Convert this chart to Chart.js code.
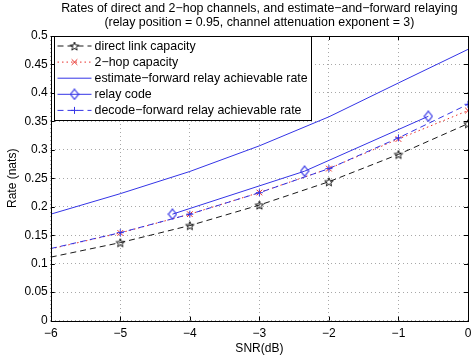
<!DOCTYPE html>
<html><head><meta charset="utf-8">
<script src="https://cdn.jsdelivr.net/npm/chart.js@4"></script>
<style>body{margin:0;background:#fff}canvas{display:block}</style>
</head><body>
<canvas id="c" width="474" height="355"></canvas>
<script>
// ---- data ----
const snr = [-6, -5, -4, -3, -2, -1, 0];
const directLink      = [0.1115, 0.137, 0.167, 0.203, 0.244, 0.292, 0.346];
const twoHop          = [0.126, 0.154, 0.187, 0.225, 0.267, 0.319, 0.369];
const estimateForward = [0.187, 0.223, 0.262, 0.307, 0.358, 0.4175, 0.4765];
const relayCodeSnr    = [-4.25, -2.35, -0.57];
const relayCode       = [0.187, 0.2625, 0.359];
const decodeForward   = [0.1266, 0.1545, 0.187, 0.2247, 0.267, 0.321, 0.380];
const xTickValues = [-6, -5, -4, -3, -2, -1, 0];
const yTickValues = [0, 0.05, 0.1, 0.15, 0.2, 0.25, 0.3, 0.35, 0.4, 0.45, 0.5];
const seriesLabels = ['direct link capacity', '2\u2212hop capacity', 'estimate\u2212forward relay achievable rate', 'relay code', 'decode\u2212forward relay achievable rate'];
const titleLines = ['Rates of direct and 2\u2212hop channels, and estimate\u2212and\u2212forward relaying', '(relay position = 0.95, channel attenuation exponent = 3)'];

const FONT = "'Liberation Sans', Arial, Helvetica, sans-serif";
const BLUE = '#3434e6';
const BLACK = '#1a1a1a';
const RED = '#e8302a';

function makeStar(r, color) {
  const s = Math.ceil(r * 2 + 3), c = document.createElement('canvas');
  c.width = s; c.height = s;
  const g = c.getContext('2d');
  g.strokeStyle = color; g.lineWidth = 1;
  g.beginPath();
  for (let i = 0; i < 10; i++) {
    const a = -Math.PI / 2 + i * Math.PI / 5, rr = i % 2 ? r * 0.42 : r;
    const x = s / 2 + rr * Math.cos(a), y = s / 2 + 0.5 + rr * Math.sin(a);
    i ? g.lineTo(x, y) : g.moveTo(x, y);
  }
  g.closePath(); g.stroke();
  return c;
}
function makeDiamond(w, h, color) {
  const c = document.createElement('canvas');
  c.width = w + 2; c.height = h + 2;
  const g = c.getContext('2d');
  g.strokeStyle = color; g.lineWidth = 1.2;
  g.beginPath();
  g.moveTo(c.width / 2, 1); g.lineTo(c.width - 1, c.height / 2);
  g.lineTo(c.width / 2, c.height - 1); g.lineTo(1, c.height / 2); g.closePath();
  g.stroke();
  return c;
}
const starImg = makeStar(4.5, BLACK);
const diamondImg = makeDiamond(8, 10, BLUE);

function pts(xs, ys) { return xs.map((x, i) => ({x, y: ys[i]})); }
const hideFirst = r => snr.map((x, i) => i === 0 ? 0 : r);

const datasets = [
  {label: seriesLabels[0], data: pts(snr, directLink), borderColor: BLACK, borderWidth: 1, borderDash: [6, 4],
   pointStyle: starImg, pointRadius: hideFirst(4), pointBorderColor: BLACK, order: 5},
  {label: seriesLabels[1], data: pts(snr, twoHop), borderColor: RED, borderWidth: 1, borderDash: [1.5, 3],
   pointStyle: 'crossRot', pointRadius: hideFirst(4), pointBorderColor: RED, pointBorderWidth: 1, order: 3},
  {label: seriesLabels[2], data: pts(snr, estimateForward), borderColor: BLUE, borderWidth: 1,
   pointRadius: 0, order: 4},
  {label: seriesLabels[3], data: pts(relayCodeSnr, relayCode), borderColor: BLUE, borderWidth: 1,
   pointStyle: diamondImg, pointRadius: 5, pointBorderColor: BLUE, order: 2},
  {label: seriesLabels[4], data: pts(snr, decodeForward), borderColor: BLUE, borderWidth: 1, borderDash: [6, 4],
   pointStyle: 'cross', pointRadius: hideFirst(3.5), pointBorderColor: BLUE, pointBorderWidth: 1, order: 1},
];
datasets.forEach(d => { d.fill = false; d.tension = 0; d.pointBackgroundColor = 'rgba(0,0,0,0)'; });

const boxPlugin = {
  id: 'boxLegend',
  afterDatasetsDraw(chart) {
    const {ctx, chartArea: a, scales} = chart;
    ctx.save();
    ctx.strokeStyle = '#000'; ctx.lineWidth = 1; ctx.setLineDash([]);
    ctx.strokeRect(Math.round(a.left) + 0.5, Math.round(a.top) + 0.5, Math.round(a.right - a.left), Math.round(a.bottom - a.top));
    const tl = 4;
    ctx.beginPath();
    xTickValues.forEach(v => {
      const x = Math.round(scales.x.getPixelForValue(v)) + 0.5;
      ctx.moveTo(x, a.bottom); ctx.lineTo(x, a.bottom - tl);
      ctx.moveTo(x, a.top); ctx.lineTo(x, a.top + tl);
    });
    yTickValues.forEach(v => {
      const y = Math.round(scales.y.getPixelForValue(v)) + 0.5;
      ctx.moveTo(a.left, y); ctx.lineTo(a.left + tl, y);
      ctx.moveTo(a.right, y); ctx.lineTo(a.right - tl, y);
    });
    ctx.stroke();

    // title, centred over the plot area
    ctx.fillStyle = '#000';
    ctx.font = '12.4px ' + FONT;
    ctx.textAlign = 'center'; ctx.textBaseline = 'middle';
    const cx = (a.left + a.right) / 2;
    titleLines.forEach((t, i) => ctx.fillText(t, cx, a.top - 27 + i * 14));

    // legend box
    ctx.textAlign = 'left';
    const L = Math.round(a.left) + 3.5, T = Math.round(a.top) + 0.5, W = 257, H = 84;
    ctx.fillStyle = '#fff';
    ctx.fillRect(L, T, W, H);
    ctx.strokeRect(L, T, W, H);
    ctx.font = '12.4px ' + FONT;
    datasets.forEach((d, i) => {
      const y = T + 9.5 + i * 16.1;
      ctx.save();
      ctx.strokeStyle = d.borderColor; ctx.lineWidth = d.borderWidth;
      ctx.setLineDash(d.borderDash || []);
      ctx.beginPath(); ctx.moveTo(L + 3, y); ctx.lineTo(L + 37, y); ctx.stroke();
      ctx.setLineDash([]);
      const mx = L + 20;
      if (d.pointStyle && typeof d.pointStyle === 'object') {
        ctx.drawImage(d.pointStyle, mx - d.pointStyle.width / 2, y - d.pointStyle.height / 2);
      } else if (d.pointStyle) {
        Chart.helpers.drawPoint(ctx, {pointStyle: d.pointStyle, rotation: 0, borderWidth: 1, radius: Array.isArray(d.pointRadius) ? d.pointRadius[1] : d.pointRadius}, mx, y);
      }
      ctx.restore();
      ctx.fillStyle = '#000';
      ctx.fillText(d.label, L + 40, y + 0.5);
    });
    ctx.restore();
  }
};

const ticksFont = {family: FONT, size: 12};
new Chart(document.getElementById('c'), {
  type: 'line',
  data: {datasets},
  options: {
    responsive: false, animation: false, events: [],
    layout: {padding: {left: 5, right: 4, top: 36, bottom: 0}},
    plugins: {
      legend: {display: false}, tooltip: {enabled: false}, title: {display: false}
    },
    scales: {
      x: {type: 'linear', min: -6, max: 0,
          afterBuildTicks: s => { s.ticks = xTickValues.map(v => ({value: v})); },
          afterFit: s => { s.paddingRight = 0; s.paddingLeft = 0; },
          ticks: {color: '#000', font: ticksFont, padding: 6, maxRotation: 0, callback: v => v < 0 ? '\u2212' + Math.abs(v) : String(v)},
          grid: {color: '#a8a8a8', drawTicks: false, lineWidth: 1},
          border: {display: false, dash: [1, 3]},
          title: {display: true, text: 'SNR(dB)', color: '#000', font: {family: FONT, size: 12, lineHeight: 1}, padding: {top: -4, bottom: 0}}},
      y: {type: 'linear', min: 0, max: 0.5,
          afterBuildTicks: s => { s.ticks = yTickValues.map(v => ({value: v})); },
          ticks: {color: '#000', font: ticksFont, padding: 3, callback: v => String(+v.toFixed(2))},
          grid: {color: '#a8a8a8', drawTicks: false, lineWidth: 1},
          border: {display: false, dash: [1, 3]},
          title: {display: true, text: 'Rate (nats)', color: '#000', font: ticksFont, padding: {top: 0, bottom: 2}}}
    }
  },
  plugins: [boxPlugin]
});
</script>
</body></html>
